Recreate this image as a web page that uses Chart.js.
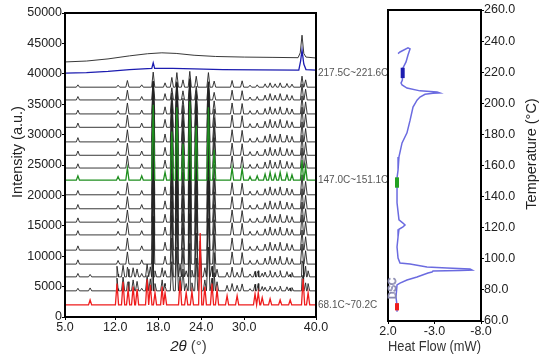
<!DOCTYPE html>
<html>
<head>
<meta charset="utf-8">
<script src="https://cdn.jsdelivr.net/npm/chart.js@4.4.1/dist/chart.umd.min.js"></script>
<style>
  html, body { margin: 0; padding: 0; background: #fff; }
  #wrap { position: relative; width: 545px; height: 358px; }
  #xrd { position: absolute; left: 0; top: 0; }
  #dsc { position: absolute; left: 360px; top: 0; }
</style>
</head>
<body>
<div id="wrap">
  <canvas id="xrd" width="545" height="358"></canvas>
  <canvas id="dsc" width="185" height="358"></canvas>
</div>
<script>
// ---- XRD scans, stacked from bottom (68 C) to top (221 C) ----
const scanOffsets = [2000, 4300, 6600, 8700, 11000, 13500, 15600, 17800, 20100, 22500,
  24500, 26600, 28800, 31200, 33400, 35700, 37800, 40100, 41950];
const xTicks = [5, 12, 18, 24, 30, 40];

// form I (red scan) peaks: [2theta, height]
const formIPeaks = [
  [8.5, 800], [12.25, 3500], [13.1, 3800], [13.8, 2500], [14.5, 3000], [15.05, 2600],
  [16.45, 4200], [16.9, 3300], [17.55, 2000], [18.55, 3000], [18.95, 2000], [21.05, 4000],
  [21.9, 2000], [22.7, 2200], [23.85, 11800], [24.5, 3000], [25.5, 3500], [26.2, 2500],
  [27.6, 1500], [29.0, 1500], [31.5, 1800], [31.95, 2000], [32.5, 1200], [33.6, 1000],
  [35.0, 800], [36.4, 800], [38.2, 4300], [38.9, 2000]
];
// form II peaks: [2theta, height, strong]
const formIIPeaks = [
  [6.8, 700, 0], [12.4, 600, 0], [13.7, 2000, 0], [15.7, 700, 0], [17.3, 12400, 1],
  [18.95, 1300, 0], [19.9, 8000, 1], [20.6, 12000, 1], [21.45, 6000, 1], [22.4, 13000, 1],
  [23.3, 9000, 1], [25.0, 12000, 1], [25.8, 5000, 1], [28.3, 2000, 0], [29.7, 1900, 0],
  [30.8, 600, 0], [31.8, 700, 0], [32.9, 1000, 0], [33.6, 1300, 0], [34.3, 1000, 0],
  [35.0, 1300, 0], [35.95, 1100, 0], [36.65, 900, 0], [38.05, 3300, 0], [38.55, 2200, 0]
];
// share of each form in the 17 crystalline scans
const formIScale   = [1, 0.6, 0.5, 0, 0, 0, 0, 0, 0, 0, 0, 0, 0, 0, 0, 0, 0];
const formIIScale  = [0, 0.6, 0.8, 1, 1, 1, 1, 1, 1, 1, 1, 1, 1, 1, 0.9, 0.8, 0.55];
const strongScale  = [0, 0.6, 0.8, 1, 1, 1, 1, 1, 1, 1, 1, 0.95, 0.8, 0.6, 0.43, 0.25, 0.2];

// melted scans: [2theta, height above offset]
const bluePattern = [
  [5, 0], [8, 100], [11, 300], [14, 600], [16.5, 750], [17.1, 800], [17.3, 1700], [17.5, 800],
  [20, 800], [23, 700], [27, 600], [32, 550], [37.6, 500], [37.85, 2000], [38.05, 3800],
  [38.3, 1500], [38.6, 600], [40, 500]
];
const topPattern = [
  [5, 0], [8, 150], [11, 500], [14, 1000], [16.5, 1350], [18.5, 1500], [20.5, 1400], [23, 1100],
  [26, 900], [30, 800], [34, 750], [37.5, 700], [37.8, 1500], [38.05, 4400], [38.3, 1400],
  [38.6, 800], [40, 650]
];

const labelScans = [0, 9, 17];
const scanLabels = ["68.1C~70.2C", "147.0C~151.1C", "217.5C~221.6C"];

// ---- DSC trace ----
const dscTemp = [232, 233, 235.6, 235, 231, 226.6, 222.7, 219, 215, 213, 211.8, 209.8, 208,
  207.3, 206.6, 206.4, 205.8, 204, 202, 197.6, 189, 181, 174.5, 165.5, 157, 152, 149.6, 136,
  125, 123, 121.7, 120.5, 119, 114, 107.6, 100.5, 97.3, 96.7, 94.7, 94.1, 93.4, 92.8, 92.5,
  92.2, 91.5, 90.9, 88.3, 86.4, 84.4, 83.2, 75.4, 70, 66];
const dscHeatFlow = [0.92, 0.71, -0.15, -0.37, -0.15, 0.06, 0.39, 0.42, 0.49, 0.6, 0.49, -0.04,
  -1.44, -3.27, -3.59, -2.84, -1.98, -1.44, -1.12, -0.69, -0.37, -0.04, 0.49, 0.82, 0.92, 1.03,
  1.03, 1.03, 0.82, 0.39, 0.17, 0.39, 0.82, 0.92, 1.03, 0.92, 0.71, -0.37, -2.19, -4.34, -6.82,
  -7.03, -5.74, -2.84, -2.73, -2.3, -1.12, -0.04, 0.71, 1.03, 1.14, 1.03, 1.03];
const markerTemps = [[217.5, 221.6], [147.0, 151.1], [68.1, 70.2]];
const markerFlow = [0.42, 1.03, 1.03];
const dscXTicks = [2, -3, -8];

const RED = "#ee1c1c";
const GREEN = "#1f8f1f";
const BLUE = "#1c1cb0";
const tickFont = { family: "Liberation Sans", size: 12.5 };

function buildScan(i) {
  const off = scanOffsets[i];
  if (i === 17) return bluePattern.map(([t, h]) => ({ x: t, y: off + h }));
  if (i === 18) return topPattern.map(([t, h]) => ({ x: t, y: off + h }));

  const peaks = [];
  formIPeaks.forEach(([t, h]) => {
    if (formIScale[i]) peaks.push([t, h * formIScale[i]]);
  });
  formIIPeaks.forEach(([t, h, s]) => {
    const k = s ? strongScale[i] : formIIScale[i];
    if (k) peaks.push([t, h * k]);
  });

  const hw = 0.22;
  const pts = [{ x: 5, y: off }];
  peaks.forEach(([t, h]) => {
    pts.push({ x: t - hw, y: off }, { x: t, y: off + h }, { x: t + hw, y: off });
  });
  pts.push({ x: 40, y: off });
  pts.sort((a, b) => a.x - b.x);
  return pts;
}

function scanColor(i) {
  if (i === 0) return RED;
  if (i === 9) return GREEN;
  if (i === 17) return BLUE;
  return "#222";
}

const xrdDatasets = scanOffsets.map((_, i) => ({
  data: buildScan(i),
  borderColor: scanColor(i),
  borderWidth: [0, 9, 17].includes(i) ? 1.3 : 0.9,
  pointRadius: 0,
  tension: 0,
  order: [0, 9, 17].includes(i) ? 0 : 1,
}));

const xrdDecor = {
  id: "xrdDecor",
  afterDraw(chart) {
    const { ctx, chartArea: a, scales } = chart;
    ctx.save();
    ctx.strokeStyle = "#000";
    ctx.lineWidth = 2;
    ctx.strokeRect(a.left, a.top, a.right - a.left, a.bottom - a.top);

    ctx.font = '10px "Liberation Sans"';
    ctx.fillStyle = "#555";
    ctx.textBaseline = "middle";
    labelScans.forEach((idx, k) => {
      ctx.fillText(scanLabels[k], a.right + 2, scales.y.getPixelForValue(scanOffsets[idx]));
    });

    // x title: italic 2θ + (°)
    ctx.fillStyle = "#222";
    const f1 = 'italic 15px "Liberation Sans"';
    const f2 = '15px "Liberation Sans"';
    ctx.font = f1;
    const w1 = ctx.measureText("2θ").width;
    ctx.font = f2;
    const w2 = ctx.measureText(" (°)").width;
    const x0 = (a.left + a.right) / 2 - 2 - (w1 + w2) / 2;
    ctx.font = f1;
    ctx.fillText("2θ", x0, 347);
    ctx.font = f2;
    ctx.fillStyle = "#444";
    ctx.fillText(" (°)", x0 + w1, 347);

    // y title
    ctx.translate(18, 152);
    ctx.rotate(-Math.PI / 2);
    ctx.textAlign = "center";
    ctx.fillStyle = "#222";
    ctx.font = '14.5px "Liberation Sans"';
    ctx.fillText("Intensity (a.u.)", 0, 0);
    ctx.restore();
  },
};

new Chart(document.getElementById("xrd"), {
  type: "line",
  data: { datasets: xrdDatasets },
  options: {
    responsive: false,
    animation: false,
    layout: { padding: { left: 0, top: 13, right: 229, bottom: 0 } },
    plugins: { legend: { display: false }, tooltip: { enabled: false } },
    scales: {
      x: {
        type: "linear",
        min: 5,
        max: 40,
        afterBuildTicks: (scale) => {
          scale.ticks = xTicks.map((v) => ({ value: v }));
        },
        afterFit: (scale) => {
          scale.height = 41;
        },
        ticks: {
          autoSkip: false,
          maxRotation: 0,
          padding: 0,
          color: "#222",
          font: tickFont,
          callback: (v) => Number(v).toFixed(1),
        },
        grid: { drawOnChartArea: false, tickLength: 3, color: "#000" },
        border: { display: false },
      },
      y: {
        min: 0,
        max: 50000,
        afterFit: (scale) => {
          scale.width = 65;
        },
        ticks: {
          stepSize: 5000,
          padding: 0,
          color: "#222",
          font: tickFont,
          callback: (v) => String(v),
        },
        grid: { drawOnChartArea: false, tickLength: 3, color: "#000" },
        border: { display: false },
      },
    },
  },
  plugins: [xrdDecor],
});

// ---- DSC panel ----
const dscDecor = {
  id: "dscDecor",
  afterDraw(chart) {
    const { ctx, chartArea: a, scales } = chart;
    ctx.save();
    ctx.strokeStyle = "#000";
    ctx.lineWidth = 2;
    ctx.strokeRect(a.left, a.top, a.right - a.left, a.bottom - a.top);

    // DSC tag near the low-temperature end
    const tx = a.left + 5;
    const ty = scales.y.getPixelForValue(81);
    ctx.save();
    ctx.translate(tx, ty);
    ctx.rotate(-Math.PI / 2);
    ctx.font = '10px "Liberation Sans"';
    ctx.textAlign = "center";
    ctx.textBaseline = "middle";
    ctx.strokeStyle = "#8a8ab0";
    ctx.lineWidth = 0.8;
    ctx.strokeText("DSC", 0, 0);
    ctx.restore();

    ctx.fillStyle = "#222";
    ctx.font = '14.5px "Liberation Sans"';
    ctx.translate(172, 154);
    ctx.rotate(-Math.PI / 2);
    ctx.textAlign = "center";
    ctx.textBaseline = "middle";
    ctx.fillText("Temperature (°C)", 0, 0);
    ctx.restore();
  },
};

const dscDatasets = [
  {
    data: dscTemp.map((t, i) => ({ x: dscHeatFlow[i], y: t })),
    borderColor: "#6b6be0",
    borderWidth: 1.5,
    pointRadius: 0,
    tension: 0,
    order: 1,
  },
].concat(
  markerTemps.map(([t0, t1], k) => ({
    data: [{ x: markerFlow[k], y: t0 }, { x: markerFlow[k], y: t1 }],
    borderColor: [BLUE, "#22a022", RED][k],
    borderWidth: 4,
    borderCapStyle: "square",
    pointRadius: 0,
    order: 0,
  }))
);

new Chart(document.getElementById("dsc"), {
  type: "line",
  data: { datasets: dscDatasets },
  options: {
    responsive: false,
    animation: false,
    layout: { padding: { left: 28, top: 10, right: 0, bottom: 0 } },
    plugins: { legend: { display: false }, tooltip: { enabled: false } },
    scales: {
      x: {
        type: "linear",
        min: -8,
        max: 2,
        reverse: true,
        afterBuildTicks: (scale) => {
          scale.ticks = dscXTicks.map((v) => ({ value: v }));
        },
        afterFit: (scale) => {
          scale.height = 37;
        },
        ticks: {
          autoSkip: false,
          maxRotation: 0,
          padding: 0,
          color: "#222",
          font: tickFont,
          callback: (v) => Number(v).toFixed(1),
        },
        title: {
          display: true,
          text: "Heat Flow (mW)",
          color: "#333",
          font: { family: "Liberation Sans", size: 14.5 },
          padding: { top: 0, bottom: 2 },
        },
        grid: { drawOnChartArea: false, tickLength: 3, color: "#000" },
        border: { display: false },
      },
      y: {
        position: "right",
        min: 60,
        max: 260,
        afterFit: (scale) => {
          scale.width = 64;
        },
        ticks: {
          stepSize: 20,
          padding: 0,
          color: "#222",
          font: tickFont,
          callback: (v) => Number(v).toFixed(1),
        },
        grid: { drawOnChartArea: false, tickLength: 3, color: "#000" },
        border: { display: false },
      },
    },
  },
  plugins: [dscDecor],
});
</script>
</body>
</html>
